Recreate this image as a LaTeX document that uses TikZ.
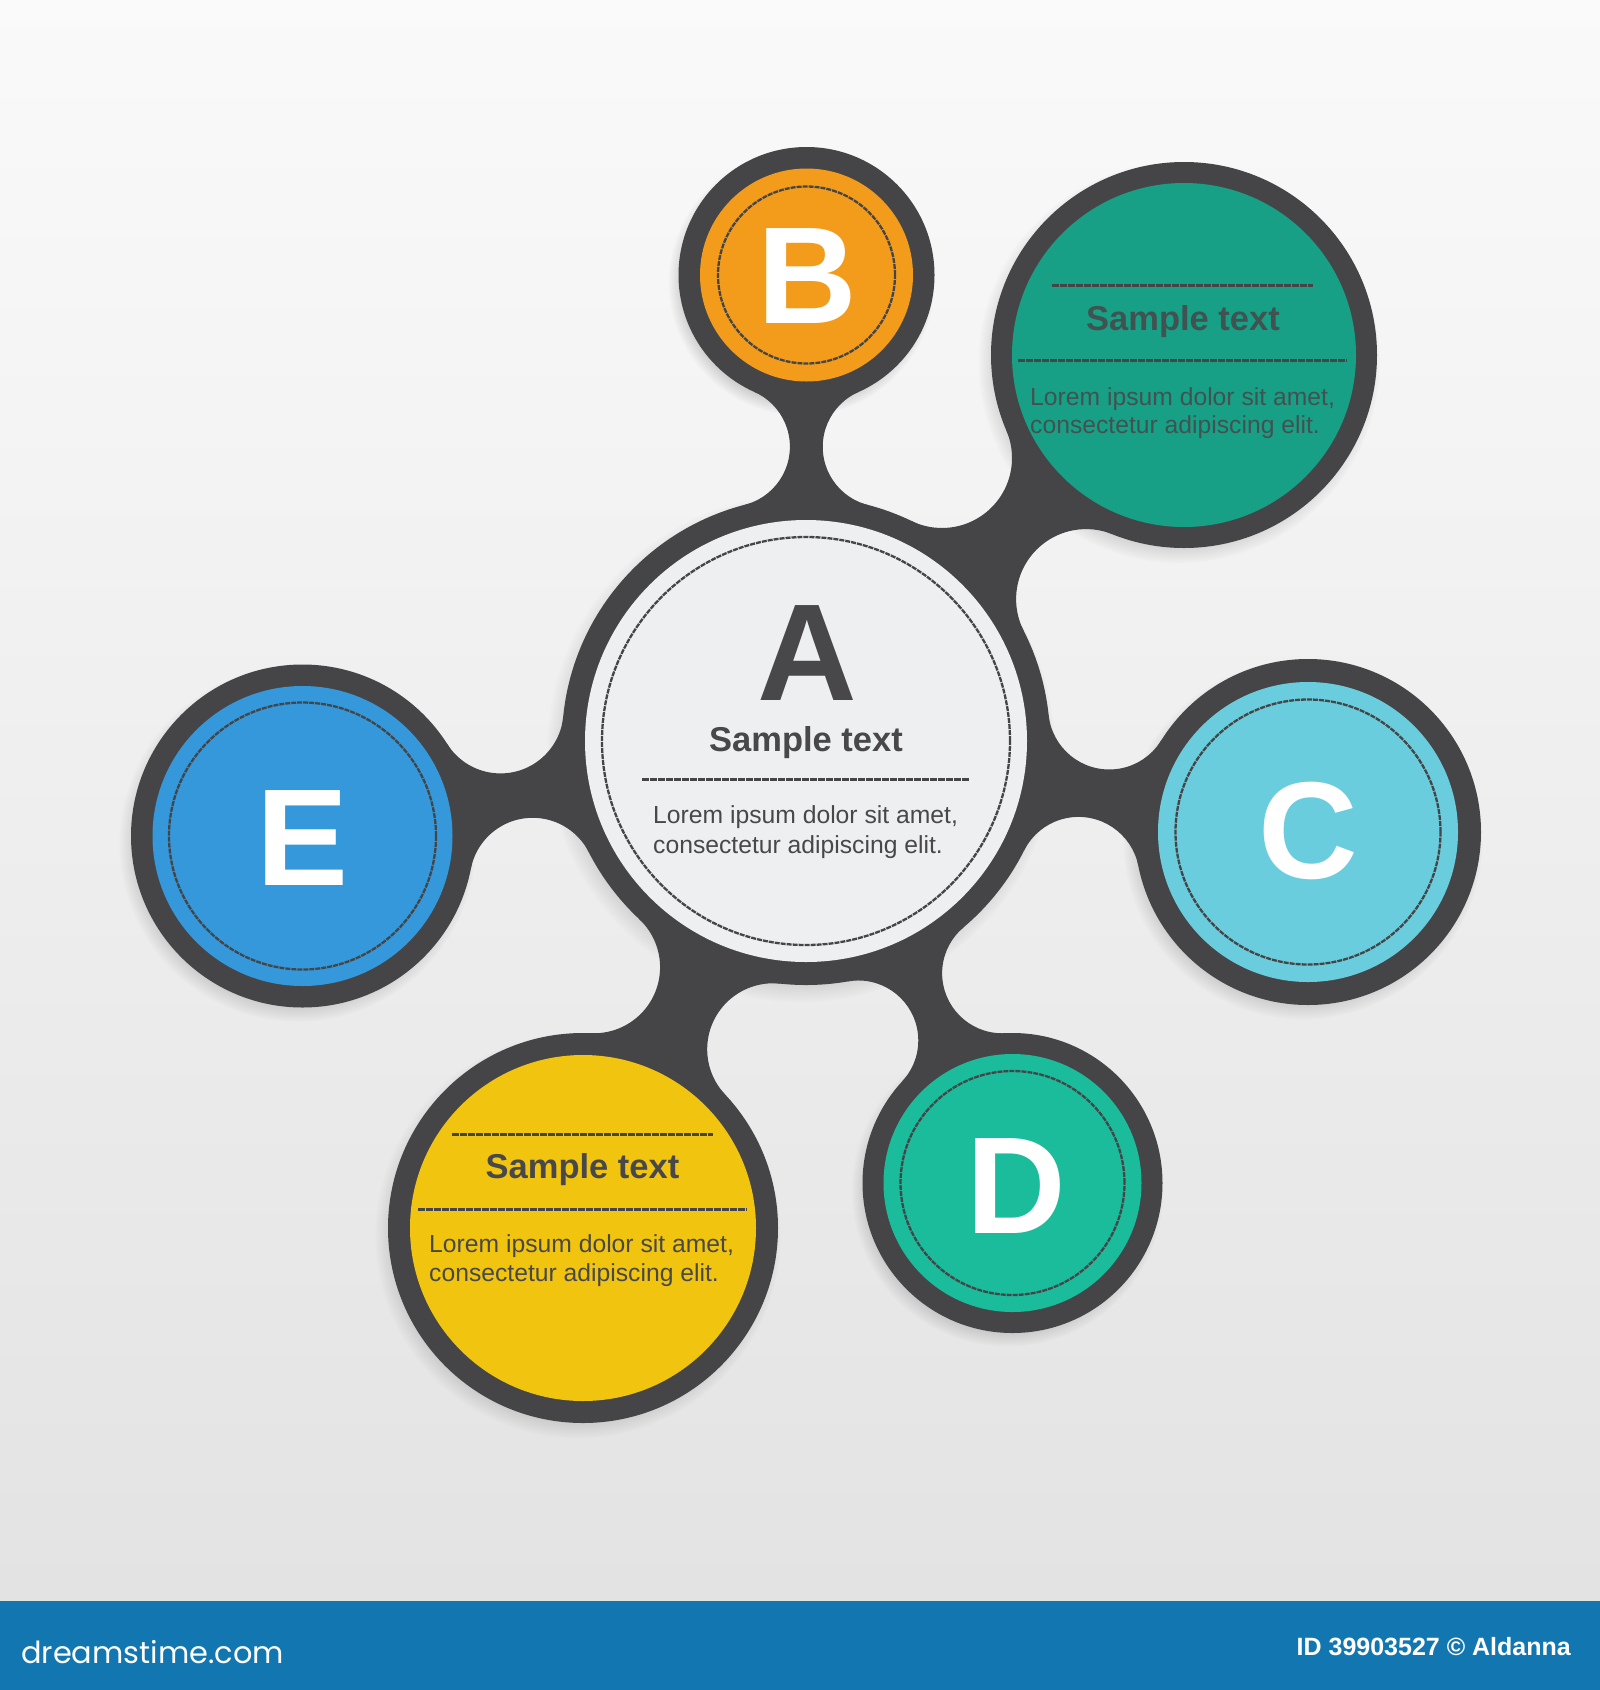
\documentclass[tikz,border=0pt]{standalone}
\usepackage{fontspec}
\setmainfont{Liberation Sans}
\newfontfamily\logofont{Poppins}
\usetikzlibrary{shadows}

\definecolor{ringgray}{HTML}{454547}
\definecolor{inkgray}{HTML}{48484A}
\definecolor{hubfill}{HTML}{EDEFF1}
\definecolor{orangeB}{HTML}{F39C1B}
\definecolor{tealF}{HTML}{17A086}
\definecolor{cyanC}{HTML}{6ACDDD}
\definecolor{greenD}{HTML}{1ABC9C}
\definecolor{yellowY}{HTML}{F1C40F}
\definecolor{blueE}{HTML}{3498DB}
\definecolor{barblue}{HTML}{1277B0}

\newdimen\nkax \newdimen\nkay \newdimen\nkbx \newdimen\nkby
\newcommand\neck[5]{%
  \pgfextractx{\nkax}{\pgfpointanchor{#1}{center}}%
  \pgfextracty{\nkay}{\pgfpointanchor{#1}{center}}%
  \pgfextractx{\nkbx}{\pgfpointanchor{#2}{center}}%
  \pgfextracty{\nkby}{\pgfpointanchor{#2}{center}}%
  \pgfmathsetmacro\nkx{\the\nkax}\pgfmathsetmacro\nky{\the\nkay}%
  \pgfmathsetmacro\nkvx{(\the\nkbx-\nkx)/100}\pgfmathsetmacro\nkvy{(\the\nkby-\nky)/100}%
  \pgfmathsetmacro\nkd{sqrt(\nkvx*\nkvx+\nkvy*\nkvy)}%
  \pgfmathsetmacro\nkra{(#3+#5)/100}\pgfmathsetmacro\nkrb{(#4+#5)/100}%
  \pgfmathsetmacro\nkalong{(\nkd*\nkd+\nkra*\nkra-\nkrb*\nkrb)/(2*\nkd)}%
  \pgfmathsetmacro\nkacross{sqrt(\nkra*\nkra-\nkalong*\nkalong)}%
  \pgfmathsetmacro\nkux{\nkvx/\nkd}\pgfmathsetmacro\nkuy{\nkvy/\nkd}%
  \pgfmathsetmacro\nktax{\nkx+100*(\nkalong*\nkux-\nkacross*\nkuy)}%
  \pgfmathsetmacro\nktay{\nky+100*(\nkalong*\nkuy+\nkacross*\nkux)}%
  \pgfmathsetmacro\nktbx{\nkx+100*(\nkalong*\nkux+\nkacross*\nkuy)}%
  \pgfmathsetmacro\nktby{\nky+100*(\nkalong*\nkuy-\nkacross*\nkux)}%
  \begin{scope}
    \clip (#1.center) -- (\nktax pt,\nktay pt) -- (#2.center) -- (\nktbx pt,\nktby pt) -- cycle;
    \fill[ringgray, even odd rule] (-100,-100) rectangle (1700,1800)
      (\nktax pt,\nktay pt) circle[radius=#5pt] (\nktbx pt,\nktby pt) circle[radius=#5pt];
  \end{scope}}

\begin{document}
\begin{tikzpicture}[x=1pt,y=-1pt,
  disc/.style={circle, fill=ringgray, inner sep=0pt, minimum size=#1,
    circular drop shadow={shadow xshift=-5pt, shadow yshift=-7pt, shadow scale=1.04, opacity=.45}},
  stitch/.style={draw=ringgray, line width=2.3pt, dash pattern=on 5pt off 1pt},
  rule/.style={draw=ringgray, line width=3pt, dash pattern=on 7pt off 1pt},
  letter/.style={text=white, font=\fontsize{138}{140}\bfseries, inner sep=0pt, anchor=base},
  title/.style={text=inkgray, font=\fontsize{34.5}{40}\bfseries, inner sep=0pt, anchor=base},
  body/.style={text=inkgray, font=\fontsize{24.7}{30}\selectfont, inner sep=0pt, anchor=base west}]
\useasboundingbox (0,0) rectangle (1600,1690);
\shade[top color=white!98!black, bottom color=white!89!black] (0,0) rectangle (1600,1601);
\fill[barblue] (0,1601) rectangle (1600,1690);
\node[text=white, font=\logofont\fontsize{30.4}{34}\selectfont, anchor=base west, inner sep=0pt] (logo) at (21,1663) {dreamstime.com};
\node[text=white, font=\fontsize{25}{28}\bfseries, anchor=base east, inner sep=0pt] (credit) at (1571,1655) {ID 39903527 © Aldanna};

\node[disc=488pt] (A) at (806,741) {};
\node[disc=256pt] (B) at (806.5,275) {};
\node[disc=386pt] (F) at (1184,355) {};
\node[disc=346pt] (C) at (1308,832) {};
\node[disc=300pt] (D) at (1012.5,1183) {};
\node[disc=390pt] (Y) at (583,1228) {};
\node[disc=343pt] (E) at (302.5,836) {};

\neck{A}{B}{244}{128}{60}
\neck{A}{F}{244}{193}{70}
\neck{A}{C}{244}{173}{61}
\neck{A}{D}{244}{150}{60}
\neck{A}{Y}{244}{195}{66}
\neck{A}{E}{244}{171.5}{63}

\fill[hubfill] (A.center) circle[radius=221pt];
\draw[stitch] (A.center) circle[radius=204pt];
\fill[orangeB] (B.center) circle[radius=106.5pt];
\draw[stitch] (B.center) circle[radius=88.5pt];
\fill[tealF] (F.center) circle[radius=172pt];
\fill[cyanC] (C.center) circle[radius=150pt];
\draw[stitch] (C.center) circle[radius=132.5pt];
\fill[greenD] (D.center) circle[radius=129pt];
\draw[stitch] (D.center) circle[radius=112pt];
\fill[yellowY] (Y.center) circle[radius=173pt];
\fill[blueE] (E.center) circle[radius=150pt];
\draw[stitch] (E.center) circle[radius=133.5pt];

\node[letter, text=inkgray] (la) at (807,700) {A};
\node[title] (ta) at (806,751) {Sample text};
\draw[rule] (642,779) -- (970,779);
\node[body] (ba1) at (653,823) {Lorem ipsum dolor sit amet,};
\node[body] (ba2) at (653,853) {consectetur adipiscing elit.};

\node[letter] (lb) at (807,323) {B};
\node[letter] (lc) at (1308,878) {C};
\node[letter] (ld) at (1016,1233) {D};
\node[letter] (le) at (302.5,885) {E};

\draw[rule] (1052,285) -- (1313,285);
\node[title, text opacity=.88] (tf) at (1183,330) {Sample text};
\draw[rule] (1018,360) -- (1347,360);
\node[body, text opacity=.88] (bf1) at (1030,405) {Lorem ipsum dolor sit amet,};
\node[body, text opacity=.88] (bf2) at (1030,433) {consectetur adipiscing elit.};

\draw[rule] (452,1134) -- (713,1134);
\node[title] (ty) at (582.5,1178) {Sample text};
\draw[rule] (418,1209) -- (747,1209);
\node[body] (by1) at (429,1252) {Lorem ipsum dolor sit amet,};
\node[body] (by2) at (429,1281) {consectetur adipiscing elit.};
\end{tikzpicture}
\end{document}
